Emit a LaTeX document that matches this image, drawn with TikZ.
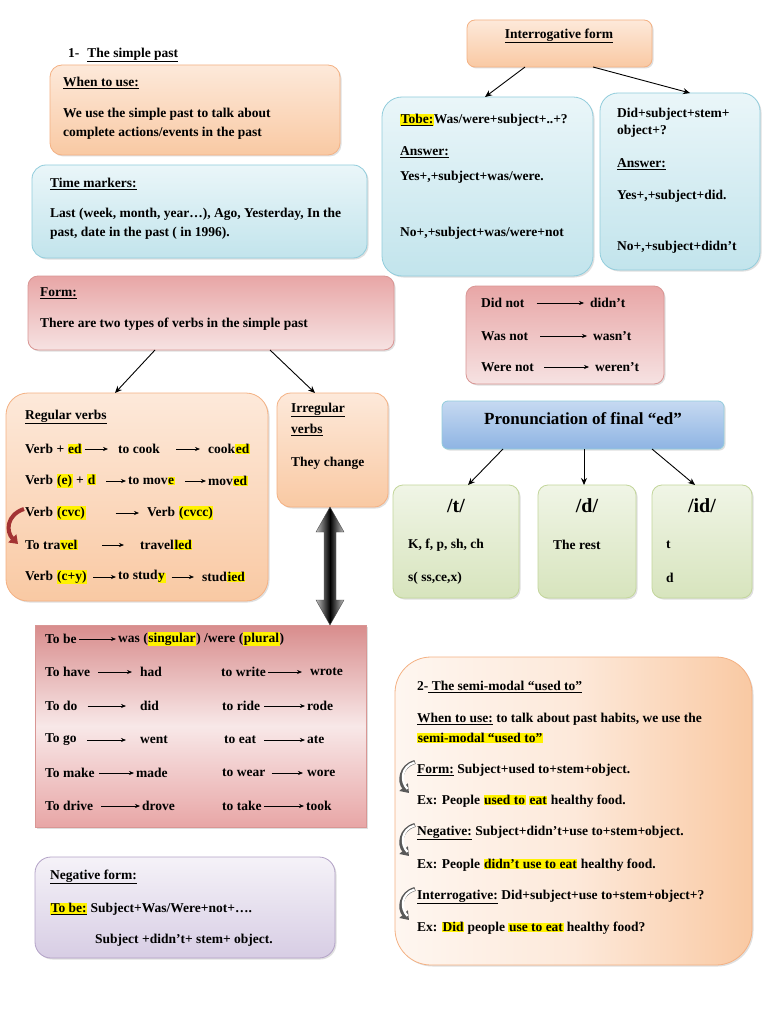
\documentclass[tikz,border=0pt]{standalone}
\usepackage{fontspec}
\setmainfont{Liberation Serif}
\usetikzlibrary{arrows.meta,shadows}
\definecolor{obord}{HTML}{F4B183}
\definecolor{otop}{HTML}{FDE9DA}
\definecolor{obot}{HTML}{F9C9A3}
\definecolor{bbord}{HTML}{92CDDC}
\definecolor{btop}{HTML}{EAF6F9}
\definecolor{bbot}{HTML}{C2E4EC}
\definecolor{rbord}{HTML}{D99694}
\definecolor{rtop}{HTML}{E8A6A6}
\definecolor{rbot}{HTML}{F6E2E2}
\definecolor{rdark}{HTML}{D88C8C}
\definecolor{gbord}{HTML}{C3D69B}
\definecolor{gtop}{HTML}{F0F5E6}
\definecolor{gbot}{HTML}{D7E4BD}
\definecolor{pbord}{HTML}{B3A2C7}
\definecolor{ptop}{HTML}{F5F2F8}
\definecolor{pbot}{HTML}{D7CDE4}
\definecolor{pbtop}{HTML}{C6D9F1}
\definecolor{pbbot}{HTML}{8EB4E3}
\newcommand\hl[1]{{\setlength\fboxsep{0.6pt}\colorbox{yellow}{#1}}}
\newcommand\ul[1]{\underline{#1}}
\tikzset{
 box/.style={rounded corners=#1, line width=0.8pt, drop shadow={opacity=0.25,shadow xshift=1.5pt,shadow yshift=-1.5pt}},
 obox/.style={box=12pt, draw=obord, top color=otop, bottom color=obot},
 bbox/.style={box=14pt, draw=bbord, top color=btop, bottom color=bbot},
 rbox/.style={box=10pt, draw=rbord, top color=rtop, bottom color=rbot},
 gbox/.style={box=10pt, draw=gbord, top color=gtop, bottom color=gbot},
 t/.style={anchor=west, inner sep=0pt, font=\fontsize{13.5}{15}\selectfont\bfseries},
 ar/.style={-{Stealth[length=5pt,width=4pt]}, semithick, shorten >=2pt, shorten <=2pt},
 conn/.style={-{Stealth[length=7pt,width=6pt]}, line width=0.9pt},
}
\begin{document}
\begin{tikzpicture}[x=1pt,y=-1pt]
\useasboundingbox[fill=white] (0,0) rectangle (768,1024);

% ---------- boxes ----------
\draw[obox] (50,65) rectangle (340,155);
\draw[bbox] (32,165) rectangle (367,258);
\draw[rbox] (28,276) rectangle (394,350);
\draw[box=22pt, draw=obord, top color=otop, bottom color=obot] (6,393) rectangle (268,601);
\draw[box=14pt, draw=obord, top color=otop, bottom color=obot] (277,393) rectangle (388,507);
\draw[box=0pt, draw=rbord, top color=rdark, bottom color=rtop, middle color=rbot!80!white] (35,625) rectangle (366,827);
\draw[box=16pt, draw=pbord, top color=ptop, bottom color=pbot] (35,857) rectangle (335,958);
\draw[box=8pt, draw=obord, top color=otop, bottom color=obot] (467,20) rectangle (652,67);
\draw[box=20pt, draw=bbord, top color=btop, bottom color=bbot] (382,97) rectangle (593,276);
\draw[box=18pt, draw=bbord, top color=btop, bottom color=bbot] (600,93) rectangle (760,270);
\draw[rbox] (466,286) rectangle (664,384);
\draw[box=6pt, draw=bbord, top color=pbtop, bottom color=pbbot] (442,401) rectangle (724,449);
\draw[gbox] (393,485) rectangle (519,598);
\draw[gbox] (538,485) rectangle (636,598);
\draw[gbox] (652,485) rectangle (752,598);
\draw[box=36pt, draw=obord, left color=white!60!otop, right color=obot, middle color=otop] (395,657) rectangle (752,965);

% double arrow
\shade[left color=gray!50, right color=gray!50, middle color=black, draw=gray!60!black]
 (330,507) -- (344,532) -- (336,532) -- (336,600) -- (344,600) -- (330,625) -- (316,600) -- (324,600) -- (324,532) -- (316,532) -- cycle;

% ---------- left column text ----------
\node[t] (title) at (68,55) {1-\hspace{8pt}\ul{The simple past}};
\node[t] (w1) at (63,83) {\ul{When to use:}};
\node[t] (w2) at (63,114) {We use the simple past to talk about};
\node[t] (w3) at (63,133) {complete actions/events in the past};
\node[t] (m1) at (50,184) {\ul{Time markers:}};
\node[t] (m2) at (50,214) {Last (week, month, year…), Ago, Yesterday, In the};
\node[t] (m3) at (50,233) {past, date in the past ( in 1996).};
\node[t] (f1) at (40,293) {\ul{Form:}};
\node[t] (f2) at (40,324) {There are two types of verbs in the simple past};

\coordinate (fa) at (155,350); \coordinate (fb) at (270,350);
\coordinate (ra) at (115,393); \coordinate (rb) at (315,393);
\draw[conn] (fa) -- (ra);
\draw[conn] (fb) -- (rb);

% regular verbs
\node[t] (rv) at (25,417) {\ul{Regular verbs}};
\node[t] (r1a) at (25,449) {Verb + \hl{ed}};
\node[t] (r1b) at (118,449) {to cook};
\node[t] (r1c) at (208,449) {cook\hl{ed}};
\node[t] (r2a) at (25,481) {Verb \hl{(e)} + \hl{d}};
\node[t] (r2b) at (128,481) {to mov\hl{e}};
\node[t] (r2c) at (208,481) {mov\hl{ed}};
\node[t] (r3a) at (25,513) {Verb \hl{(cvc)}};
\node[t] (r3b) at (147,513) {Verb \hl{(cvcc)}};
\node[t] (r4a) at (25,545) {To tra\hl{vel}};
\node[t] (r4b) at (140,545) {travel\hl{led}};
\node[t] (r5a) at (25,577) {Verb \hl{(c+y)}};
\node[t] (r5b) at (118,577) {to stud\hl{y}};
\node[t] (r5c) at (202,577) {stud\hl{ied}};
\draw[ar] (r1a.east) -- ([xshift=-8pt]r1b.west);
\draw[ar] ([xshift=14pt]r1b.east) -- ([xshift=-6pt]r1c.west);
\draw[ar] ([xshift=8pt]r2a.east) -- (r2b.west);
\draw[ar] ([xshift=8pt]r2b.east) -- (r2c.west);
\draw[ar] ([xshift=28pt]r3a.east) -- ([xshift=-6pt]r3b.west);
\draw[ar] ([xshift=22pt]r4a.east) -- ([xshift=-14pt]r4b.west);
\draw[ar] ([xshift=4pt]r5a.east) -- (r5b.west);
\draw[ar] ([xshift=4pt]r5b.east) -- ([xshift=-6pt]r5c.west);
\draw[line width=4pt, draw=red!55!black!80, -{Triangle[length=8pt,width=11pt]}] (24,509) .. controls (6,515) and (6,532) .. (18,544);

% irregular
\node[t] (iv1) at (291,410) {\ul{Irregular}};
\node[t] (iv2) at (291,430) {\ul{verbs}};
\node[t] (iv3) at (291,463) {They change};

% table
\node[t] (k0a) at (45,639) {To be};
\node[t] (k0b) at (118,639) {was (\hl{singular}) /were (\hl{plural})};
\draw[ar] (k0a.east) -- (k0b.west);
\node[t] (k1a) at (45,672) {To have}; \node[t] (k1b) at (140,672) {had};
\node[t] (k2a) at (45,706) {To do}; \node[t] (k2b) at (140,706) {did};
\node[t] (k3a) at (45,740) {To go}; \node[t] (k3b) at (140,740) {went};
\node[t] (k4a) at (45,773) {To make}; \node[t] (k4b) at (136,773) {made};
\node[t] (k5a) at (45,806) {To drive}; \node[t] (k5b) at (142,806) {drove};
\node[t] (j1a) at (221,672) {to write}; \node[t] (j1b) at (310,672) {wrote};
\node[t] (j2a) at (222,706) {to ride}; \node[t] (j2b) at (307,706) {rode};
\node[t] (j3a) at (224,740) {to eat}; \node[t] (j3b) at (307,740) {ate};
\node[t] (j4a) at (222,773) {to wear}; \node[t] (j4b) at (307,773) {wore};
\node[t] (j5a) at (222,806) {to take}; \node[t] (j5b) at (306,806) {took};
\draw[ar] ([xshift=6pt]k1a.east) -- ([xshift=-6pt]k1b.west);
\draw[ar] ([xshift=8pt]k2a.east) -- ([xshift=-12pt]k2b.west);
\draw[ar] ([xshift=8pt]k3a.east) -- ([xshift=-12pt]k3b.west);
\draw[ar] ([xshift=2pt]k4a.east) -- (k4b.west);
\draw[ar] ([xshift=6pt]k5a.east) -- (k5b.west);
\draw[ar] (j1a.east) -- ([xshift=-6pt]j1b.west);
\draw[ar] ([xshift=2pt]j2a.east) -- (j2b.west);
\draw[ar] ([xshift=6pt]j3a.east) -- (j3b.west);
\draw[ar] ([xshift=4pt]j4a.east) -- ([xshift=-2pt]j4b.west);
\draw[ar] (j5a.east) -- (j5b.west);

% negative form
\node[t] (n1) at (50,877) {\ul{Negative form:}};
\node[t] (n2) at (50,909) {\hl{\ul{To be:}} Subject+Was/Were+not+….};
\node[t] (n3) at (95,940) {Subject +didn’t+ stem+ object.};

% ---------- right column ----------
\node[t, anchor=center] (q0) at (559,36) {\ul{Interrogative form}};
\coordinate (qa) at (525,67); \coordinate (qb) at (593,67);
\coordinate (qA) at (485,97); \coordinate (qB) at (690,93);
\draw[conn] (qa) -- (qA);
\draw[conn] (qb) -- (qB);
\node[t] (q1) at (400,120) {\hl{\ul{Tobe:}}Was/were+subject+..+?};
\node[t] (q2) at (400,152) {\ul{Answer:}};
\node[t] (q3) at (400,177) {Yes+,+subject+was/were.};
\node[t] (q4) at (400,233) {No+,+subject+was/were+not};
\node[t] (d1) at (617,114) {Did+subject+stem+};
\node[t] (d2) at (617,131) {object+?};
\node[t] (d3) at (617,164) {\ul{Answer:}};
\node[t] (d4) at (617,196) {Yes+,+subject+did.};
\node[t] (d5) at (617,247) {No+,+subject+didn’t};

\node[t] (c1a) at (481,303) {Did not}; \node[t] (c1b) at (590,303) {didn’t};
\node[t] (c2a) at (481,336) {Was not}; \node[t] (c2b) at (593,336) {wasn’t};
\node[t] (c3a) at (481,367) {Were not}; \node[t] (c3b) at (595,367) {weren’t};
\draw[ar] ([xshift=10pt]c1a.east) -- ([xshift=-4pt]c1b.west);
\draw[ar] ([xshift=10pt]c2a.east) -- ([xshift=-4pt]c2b.west);
\draw[ar] ([xshift=8pt]c3a.east) -- ([xshift=-4pt]c3b.west);

\node[t, anchor=center, font=\fontsize{17}{19}\selectfont\bfseries] (p0) at (583,419) {Pronunciation of final “ed”};
\coordinate (pa) at (503,449); \coordinate (pb) at (584,449); \coordinate (pc) at (652,449);
\coordinate (pA) at (468,485); \coordinate (pB) at (584,485); \coordinate (pC) at (695,485);
\draw[conn] (pa) -- (pA);
\draw[conn] (pb) -- (pB);
\draw[conn] (pc) -- (pC);
\node[t, anchor=center, font=\fontsize{20}{22}\selectfont\bfseries] (s1) at (456,506) {/t/};
\node[t] (s1a) at (408,545) {K, f, p, sh, ch};
\node[t] (s1b) at (408,578) {s( ss,ce,x)};
\node[t, anchor=center, font=\fontsize{20}{22}\selectfont\bfseries] (s2) at (587,506) {/d/};
\node[t] (s2a) at (553,545) {The rest};
\node[t, anchor=center, font=\fontsize{20}{22}\selectfont\bfseries] (s3) at (702,506) {/id/};
\node[t] (s3a) at (666,545) {t};
\node[t] (s3b) at (666,578) {d};

% semi-modal
\node[t] (u0) at (417,687) {2-\ul{ The semi-modal “used to”}};
\node[t] (u1) at (417,719) {\ul{When to use:} to talk about past habits, we use the};
\node[t] (u2) at (417,738) {\hl{semi-modal “used to”}};
\node[t] (u3) at (417,770) {\ul{Form:} Subject+used to+stem+object.};
\node[t] (u4) at (417,801) {Ex: People \hl{used to} \hl{eat} healthy food.};
\node[t] (u5) at (417,833) {\ul{Negative:} Subject+didn’t+use to+stem+object.};
\node[t] (u6) at (417,865) {Ex: People \hl{didn’t use to eat} healthy food.};
\node[t] (u7) at (417,897) {\ul{Interrogative:} Did+subject+use to+stem+object+?};
\node[t] (u8) at (417,928) {Ex: \hl{Did} people \hl{use to eat} healthy food?};
\foreach \yy in {762,825,889}{
 \draw[line width=4pt, draw=gray!70!black, -{Triangle[length=8pt,width=11pt]}] (415,\yy) .. controls (400,\yy+4) and (399,\yy+20) .. (409,\yy+31);
 \draw[line width=2.2pt, draw=white] (414.5,\yy+0.5) .. controls (401,\yy+4.5) and (400,\yy+19) .. (407.5,\yy+27);
}
\end{tikzpicture}
\end{document}
